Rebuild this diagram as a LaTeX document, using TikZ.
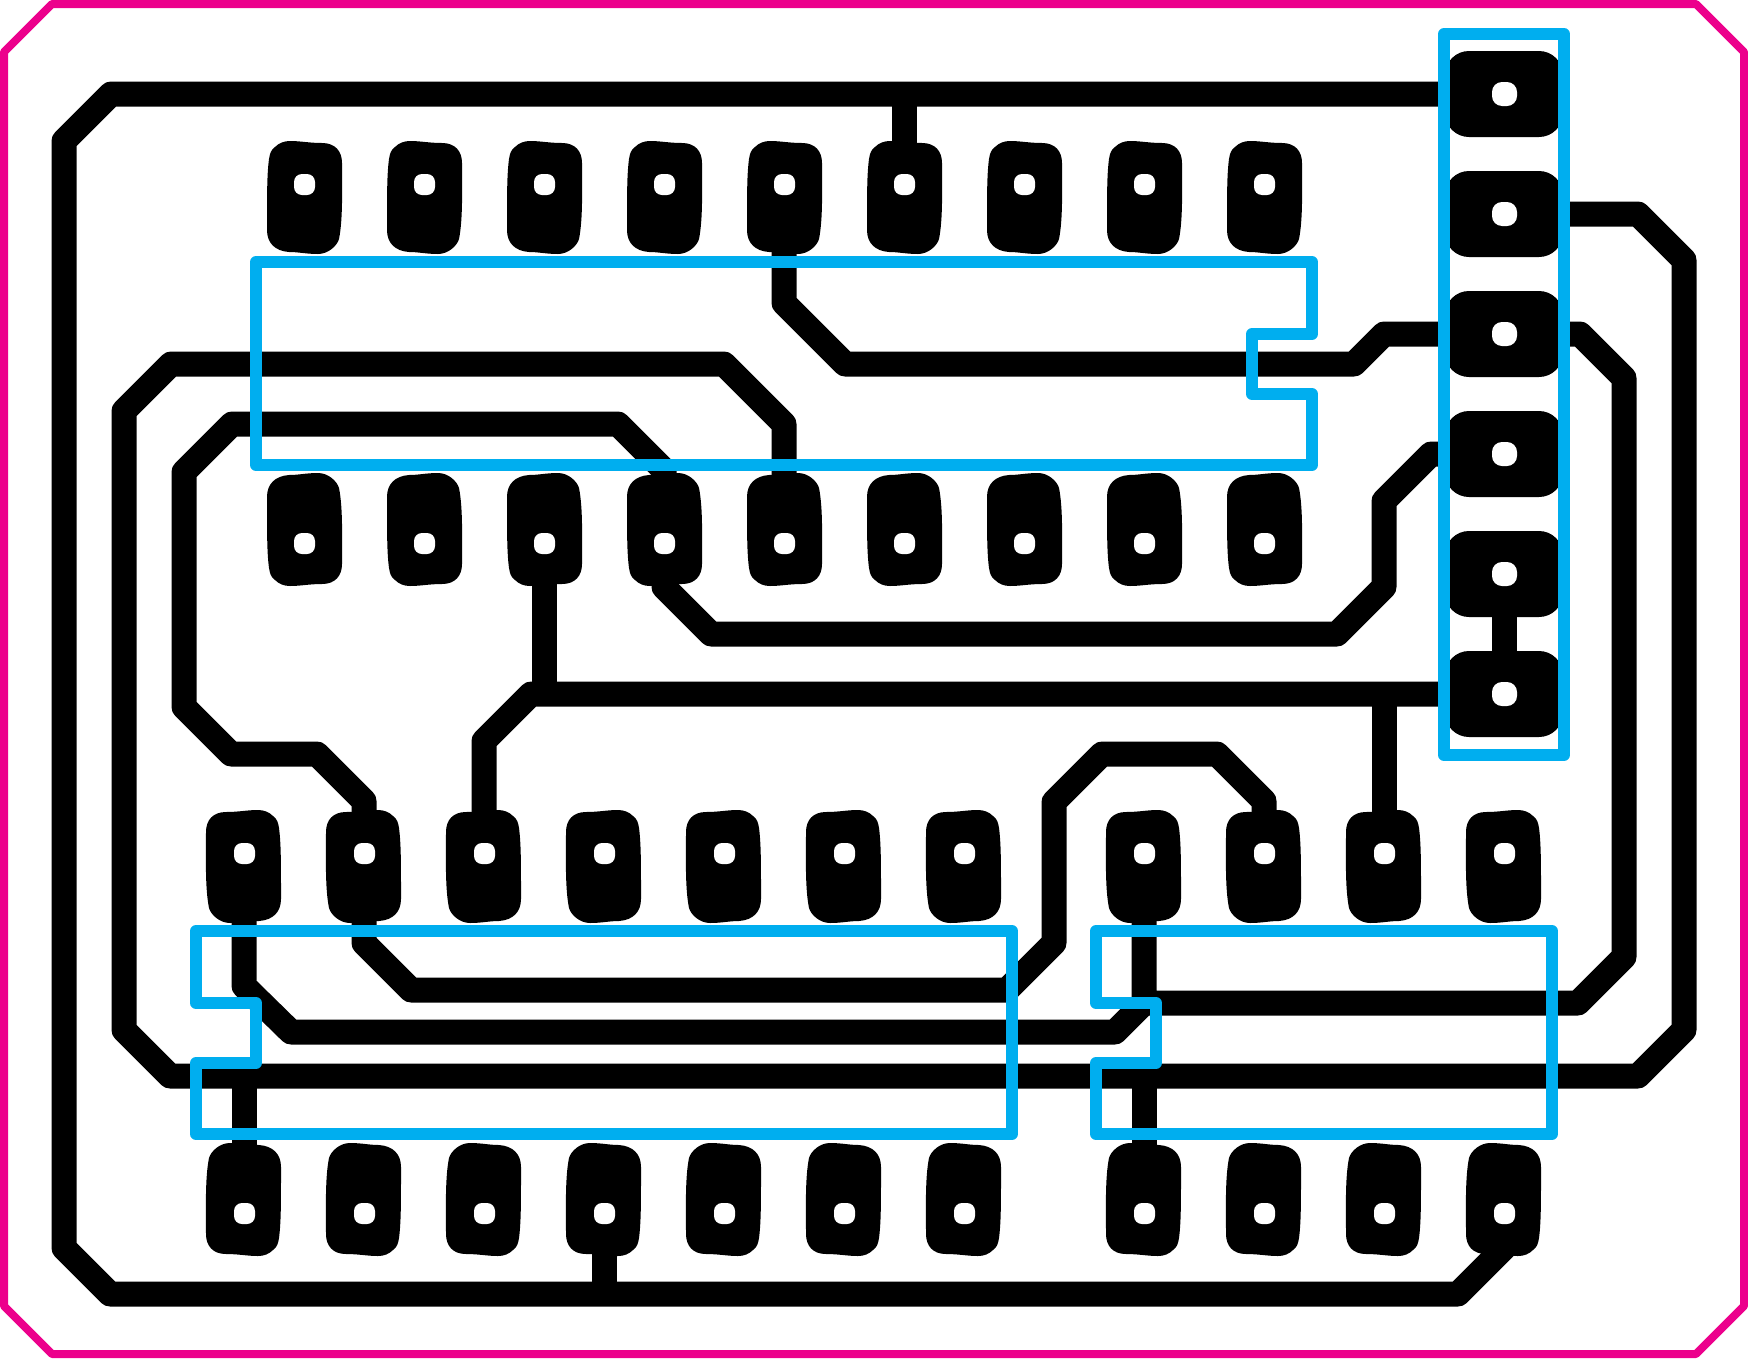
\documentclass[tikz,border=0pt]{standalone}
\definecolor{edgepink}{HTML}{EC008C}
\definecolor{cutblue}{HTML}{00AEEF}
\tikzset{
  track/.style={line width=25pt,line join=round},
  cutline/.style={draw=cutblue,line width=12pt,line join=round},
  outline/.style={draw=edgepink,line width=8pt,line join=round},
}
% one wobbly pad: centre, xscale, yscale
\newcommand{\wobblypad}[3]{%
  \fill[shift={(#1)},xscale=#2,yscale=#3] (-37,40) .. controls (-37,10) and (-37,-10) .. (-35,-25) .. controls (-34,-31) and (-33,-34) .. (-29,-37) .. controls (-25,-41) and (-20,-43) .. (-14,-43) .. controls (-3,-43) and (5,-41) .. (18,-41) .. controls (31,-41) and (38,-33) .. (38,-21) .. controls (38,5) and (39,35) .. (35,55) .. controls (33,62) and (24,70) .. (14,70) .. controls (2,70) and (-5,68) .. (-15,68) .. controls (-29,67) and (-37,59) .. (-37,46) -- cycle;%
  \fill[white,rounded corners=8pt] ([shift={(-10,-10)}]#1) rectangle ([shift={(11,11)}]#1);%
}
\begin{document}
\begin{tikzpicture}[x=1pt,y=-1pt]%
\useasboundingbox (0,0) rectangle (1748,1358);%
\foreach \i/\px in {1/304,2/424,3/544,4/664,5/784,6/904,7/1024,8/1144,9/1264} {%
  \coordinate (top\i) at (\px,184);%
  \coordinate (mid\i) at (\px,543);%
}%
\foreach \i/\px in {1/244,2/364,3/484,4/604,5/724,6/844,7/964,8/1144,9/1264,10/1384,11/1504} {%
  \coordinate (upp\i) at (\px,853);%
  \coordinate (low\i) at (\px,1213);%
}%
\foreach \i/\py in {1/94,2/214,3/334,4/454,5/574,6/694} {%
  \coordinate (hdr\i) at (1504,\py);%
}%
% board edge
\draw[outline] (52,4) -- (1696,4) -- (1744,52) -- (1744,1306) -- (1696,1354) -- (52,1354) -- (4,1306) -- (4,52) -- cycle;%
% tracks
\draw[track] (hdr1) -- (111,94) -- (64,141) -- (64,1248) -- (110,1294) -- (1458,1294) -- (1504,1248) -- (low11);%
\draw[track] (904,94) -- (top6);%
\draw[track] (604,1294) -- (low4);%
\draw[track] (top5) -- (784,303) -- (845,364) -- (1354,364) -- (1384,334) -- (hdr3);%
\draw[track] (hdr3) -- (1580,334) -- (1624,378) -- (1624,957) -- (1578,1003) -- (1144,1003) -- (upp8);%
\draw[track] (hdr2) -- (1638,214) -- (1684,260) -- (1684,1030) -- (1638,1076) -- (170,1076) -- (124,1030) -- (124,411) -- (171,364) -- (724,364) -- (784,424) -- (mid5);%
\draw[track] (low1) -- (244,1076);%
\draw[track] (low8) -- (1144,1076);%
\draw[track] (mid4) -- (664,470) -- (618,424) -- (232,424) -- (184,472) -- (184,707) -- (231,754) -- (317,754) -- (364,801) -- (upp2);%
\draw[track] (mid4) -- (664,587) -- (711,634) -- (1337,634) -- (1384,587) -- (1384,501) -- (1431,454) -- (hdr4);%
\draw[track] (mid3) -- (544,694);%
\draw[track] (hdr6) -- (531,694) -- (484,741) -- (upp3);%
\draw[track] (1384,694) -- (upp10);%
\draw[track] (hdr5) -- (hdr6);%
\draw[track] (upp9) -- (1264,801) -- (1217,754) -- (1102,754) -- (1054,802) -- (1054,943) -- (1007,990) -- (411,990) -- (364,943) -- (upp2);%
\draw[track] (upp1) -- (244,986) -- (291,1032) -- (1115,1032) -- (1144,1003);%
% pads
\foreach \i in {1,...,9} {%
  \wobblypad{top\i}{1}{1}%
  \wobblypad{mid\i}{1}{-1}%
}%
\foreach \i in {1,...,11} {%
  \wobblypad{upp\i}{-1}{1}%
  \wobblypad{low\i}{-1}{-1}%
}%
\foreach \i in {1,...,6} {%
  \fill[rounded corners=24pt] ([shift={(-59,-43)}]hdr\i) rectangle ([shift={(59,43)}]hdr\i);%
  \fill[white,rounded corners=10pt] ([shift={(-12,-12)}]hdr\i) rectangle ([shift={(13,12)}]hdr\i);%
}%
% cut lines
\draw[cutline] (256,262) -- (1312,262) -- (1312,334) -- (1252,334) -- (1252,394) -- (1312,394) -- (1312,465) -- (256,465) -- cycle;%
\draw[cutline] (1444,34) -- (1564,34) -- (1564,755) -- (1444,755) -- cycle;%
\draw[cutline] (196,931) -- (1012,931) -- (1012,1134) -- (196,1134) -- (196,1063) -- (256,1063) -- (256,1003) -- (196,1003) -- cycle;%
\draw[cutline] (1096,931) -- (1552,931) -- (1552,1134) -- (1096,1134) -- (1096,1063) -- (1156,1063) -- (1156,1003) -- (1096,1003) -- cycle;%
\end{tikzpicture}
\end{document}
